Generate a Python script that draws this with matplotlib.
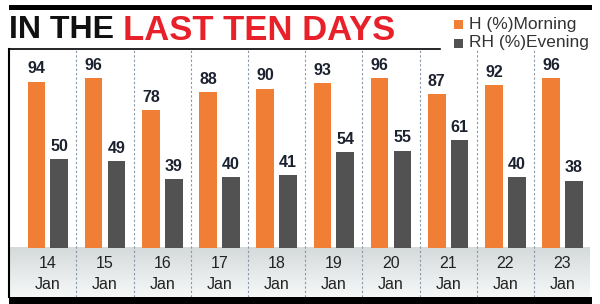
#!/usr/bin/env python3

import numpy as np
import matplotlib
matplotlib.use('Agg')
import matplotlib.pyplot as plt
from matplotlib.colors import LinearSegmentedColormap
from matplotlib.lines import Line2D
from matplotlib.patches import Rectangle

days = ['14', '15', '16', '17', '18', '19', '20', '21', '22', '23']
month = 'Jan'
morning = [94, 96, 78, 88, 90, 93, 96, 87, 92, 96]
evening = [50, 49, 39, 40, 41, 54, 55, 61, 40, 38]

ORANGE = '#f07f35'
GREY = '#525252'
RED = '#e8202a'
NAVY = '#1c2130'
FONT = ['Liberation Sans Narrow', 'Liberation Sans', 'DejaVu Sans']

W, H = 600, 304
fig = plt.figure(figsize=(W / 100, H / 100), dpi=100)

def fx(px):
	return px / W

def fy(py):
	return 1 - py / H

def fit(t, width):  # shrink/grow a text so it spans `width` pixels
	fig.canvas.draw()
	w = t.get_window_extent().width
	t.set_fontsize(t.get_fontsize() * width / w)

# chart area in pixel coordinates of the reference
left, right, top, bottom = 9, 590, 49, 297
ax = fig.add_axes([fx(left), fy(bottom), fx(right - left), (bottom - top) / H])

x = np.arange(len(days))
ax.set_xlim(-0.68, 9.48)
ax.set_ylim(-27.7, 112.4)

# gradient band under the baseline
grad = LinearSegmentedColormap.from_list('band', ['#f6f8f8', '#d5dada'])
ax.imshow(np.linspace(0, 1, 50).reshape(-1, 1), cmap=grad, origin='lower',
          extent=(-0.68, 9.48, -27.7, 0), aspect='auto', zorder=0)

ax.bar(x - 0.2, morning, width=0.31, color=ORANGE, zorder=2)
ax.bar(x + 0.2, evening, width=0.31, color=GREY, zorder=2)

for i in range(len(days)):
	ax.text(x[i] - 0.2, morning[i] + 3, str(morning[i]), ha='center', va='bottom',
	        fontsize=11.5, fontweight='bold', color=NAVY, family=FONT)
	ax.text(x[i] + 0.2, evening[i] + 3, str(evening[i]), ha='center', va='bottom',
	        fontsize=11.5, fontweight='bold', color=NAVY, family=FONT)
	ax.text(x[i], -9, days[i], ha='center', va='center', fontsize=11.5,
	        color='#222222', family=FONT)
	ax.text(x[i], -20.5, month, ha='center', va='center', fontsize=11.5,
	        color='#222222', family=FONT)

for s in x[:-1] + 0.5:
	ax.axvline(s, color='#8796a5', lw=0.8, ls=(0, (2, 2)), zorder=1)

ax.set_xticks([])
ax.set_yticks([])
for sp in ['top', 'right', 'bottom']:
	ax.spines[sp].set_visible(False)
ax.spines['left'].set_color('black')
ax.spines['left'].set_linewidth(1.5)

# black rules and top border
fig.add_artist(Rectangle((fx(9), fy(10)), fx(583), 5 / H, color='black', lw=0))
fig.add_artist(Rectangle((fx(9), 0), fx(583), 7 / H, color='black', lw=0))
fig.add_artist(Line2D([fx(9), fx(440)], [fy(49), fy(49)], color='black', lw=1.2))

# title, fitted to the reference width
t1 = fig.text(fx(9), fy(30), 'IN THE ', ha='left', va='center', fontsize=27,
              fontweight='bold', color='#111111', family=FONT)
fit(t1, 114)
fig.canvas.draw()
t2 = fig.text(t1.get_window_extent().x1 / W, fy(30), 'LAST TEN DAYS', ha='left',
              va='center', fontsize=27, fontweight='bold', color=RED, family=FONT)
fit(t2, 272)

# legend
fig.add_artist(Rectangle((fx(454), fy(29)), fx(9), 9 / H, color=ORANGE, lw=0))
fig.add_artist(Rectangle((fx(454), fy(48)), fx(9), 9 / H, color=GREY, lw=0))
l1 = fig.text(fx(469), fy(24), 'H (%)Morning', ha='left', va='center', fontsize=12,
              color='#333333', family=FONT)
l2 = fig.text(fx(469), fy(43), 'RH (%)Evening', ha='left', va='center', fontsize=12,
              color='#333333', family=FONT)
fit(l2, 120)
l1.set_fontsize(l2.get_fontsize())

fig.savefig('out.png', dpi=100, facecolor='white')
